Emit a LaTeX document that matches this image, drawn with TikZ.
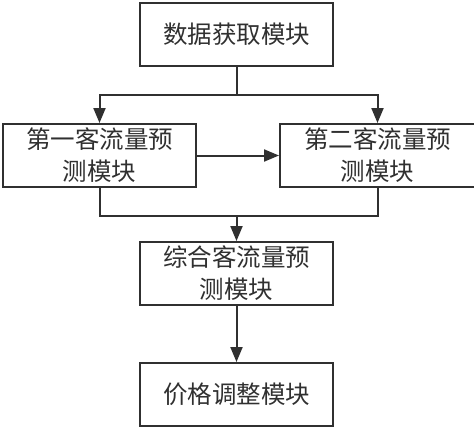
\documentclass[tikz,border=0pt]{standalone}
\usepackage{fontspec}
\setmainfont{Noto Sans CJK SC}
\usetikzlibrary{arrows.meta, positioning}
\definecolor{ink}{HTML}{303030}

\begin{document}
\begin{tikzpicture}[
    node distance=56pt,
    box/.style={rectangle, draw=ink, line width=2pt, minimum width=193pt, minimum height=63pt, align=center, text=ink, font=\fontsize{24.5pt}{32pt}\selectfont},
    arrow/.style={-{Triangle[length=15pt,width=12pt]}, draw=ink, line width=2pt},
    line/.style={draw=ink, line width=2pt}
]
\useasboundingbox (0,0) rectangle (474pt,-426pt);

% Nodes
\node[box] (data) at (236.5pt,-34.5pt) {数据获取模块};
\node[box, below=of data, xshift=-137pt] (first) {第一客流量预\\测模块};
\node[box, right=82pt of first, minimum width=195pt] (second) {第二客流量预\\测模块};
\node[box, below=174pt of data] (mix) {综合客流量预\\测模块};
\node[box, below=of mix] (price) {价格调整模块};

% Arrows
\draw[arrow] (data.south) -- ++(0,-28pt) -| (first.north);
\draw[arrow] (data.south) -- ++(0,-28pt) -| (second.north);
\draw[arrow] (first) -- (second);
\draw[line] (first.south) -- ++(0,-28pt) -| (second.south);
\draw[arrow] (first.south) ++(0,-28pt) -| (mix.north);
\draw[arrow] (mix) -- (price);

\end{tikzpicture}
\end{document}
